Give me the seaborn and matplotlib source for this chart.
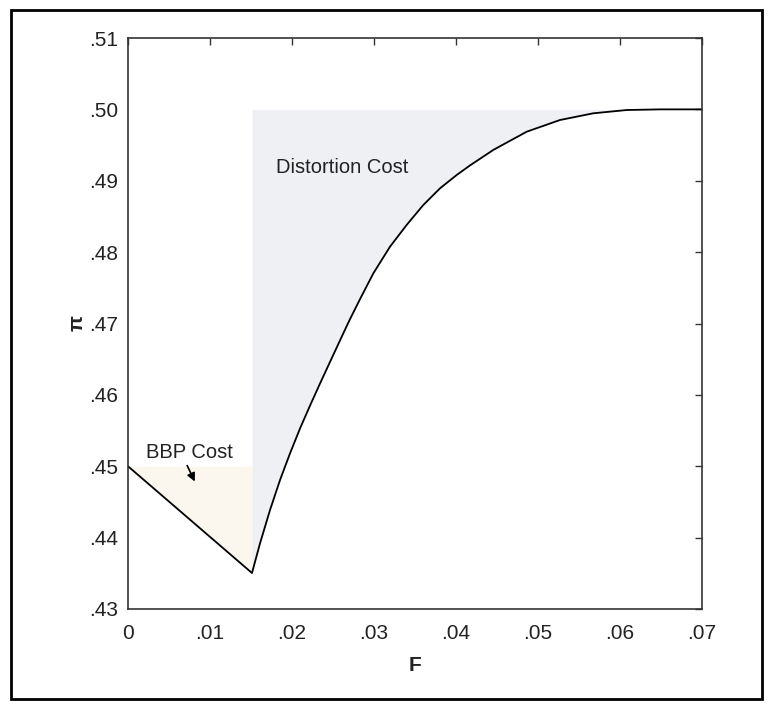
import matplotlib
matplotlib.use("Agg")
import matplotlib.pyplot as plt
import seaborn as sns
import pandas as pd
from matplotlib.patches import Rectangle

# curve
F = [0.0, 0.01512, 0.01610, 0.01732, 0.01854, 0.01976, 0.02098, 0.02220,
     0.02342, 0.02484, 0.02626, 0.02707, 0.02829, 0.02992, 0.03195, 0.03399,
     0.03601, 0.03805, 0.04009, 0.04171, 0.04455, 0.04862, 0.05268, 0.05674,
     0.06082, 0.06488, 0.07000]
pi = [0.4500, 0.43504, 0.43920, 0.44387, 0.44807, 0.45181, 0.45530, 0.45850,
      0.46160, 0.46512, 0.46863, 0.47060, 0.47340, 0.47703, 0.48076, 0.48382,
      0.48660, 0.48894, 0.49081, 0.49215, 0.49432, 0.49687, 0.49851, 0.49945,
      0.49991, 0.50000, 0.50000]
kink = 0.01512
bbp_level = 0.45
target_level = 0.50

x_ticks = [0, 0.01, 0.02, 0.03, 0.04, 0.05, 0.06, 0.07]
x_labels = ["0", ".01", ".02", ".03", ".04", ".05", ".06", ".07"]
y_ticks = [0.43, 0.44, 0.45, 0.46, 0.47, 0.48, 0.49, 0.50, 0.51]
y_labels = [".43", ".44", ".45", ".46", ".47", ".48", ".49", ".50", ".51"]

df = pd.DataFrame({"F": F, "pi": pi})

sns.set_theme(style="white")
plt.rcParams["font.family"] = ["Liberation Sans", "DejaVu Sans"]

fig = plt.figure(figsize=(7.69, 7.11), dpi=100)
ax = fig.add_axes([128 / 769, 1 - 609 / 711, (702 - 128) / 769, (609 - 38) / 711])

left = df[df["F"] <= kink]
right = df[df["F"] >= kink]
ax.fill_between(left["F"], left["pi"], bbp_level, color="#fcf7ee", lw=0)
ax.fill_between(right["F"], right["pi"], target_level, color="#eef0f3", lw=0)

sns.lineplot(data=df, x="F", y="pi", sort=False, color="black", lw=1.3, ax=ax)

ax.set_xlim(0, 0.07)
ax.set_ylim(0.43, 0.51)
ax.set_xticks(x_ticks)
ax.set_xticklabels(x_labels)
ax.set_yticks(y_ticks)
ax.set_yticklabels(y_labels)
ax.tick_params(direction="in", top=True, right=True, length=5, width=1,
               color="#333333", labelsize=15, labelcolor="#222222")
ax.tick_params(axis="x", pad=11)
ax.tick_params(axis="y", pad=7)
for s in ax.spines.values():
    s.set_color("#333333")
    s.set_linewidth(1.2)

ax.set_xlabel("F", fontsize=15, fontweight="bold", labelpad=9, color="#222222")
ax.set_ylabel("π", fontsize=15, fontweight="bold", labelpad=2, color="#222222")

ax.text(0.00744, 0.45199, "BBP Cost", fontsize=14.5, ha="center", va="center",
        color="#222222")
ax.annotate("", xy=(0.00829, 0.44751), xytext=(0.00707, 0.45045),
            arrowprops=dict(arrowstyle="-|>", color="black", lw=1.2,
                            mutation_scale=12))
ax.text(0.01805, 0.4919, "Distortion Cost", fontsize=14.5, ha="left", va="center",
        color="#222222")

fig.patches.append(Rectangle((11 / 769, 1 - 699 / 711), 751 / 769, 689 / 711,
                             transform=fig.transFigure, fill=False,
                             edgecolor="black", lw=2))

fig.savefig("out.png", dpi=100)
